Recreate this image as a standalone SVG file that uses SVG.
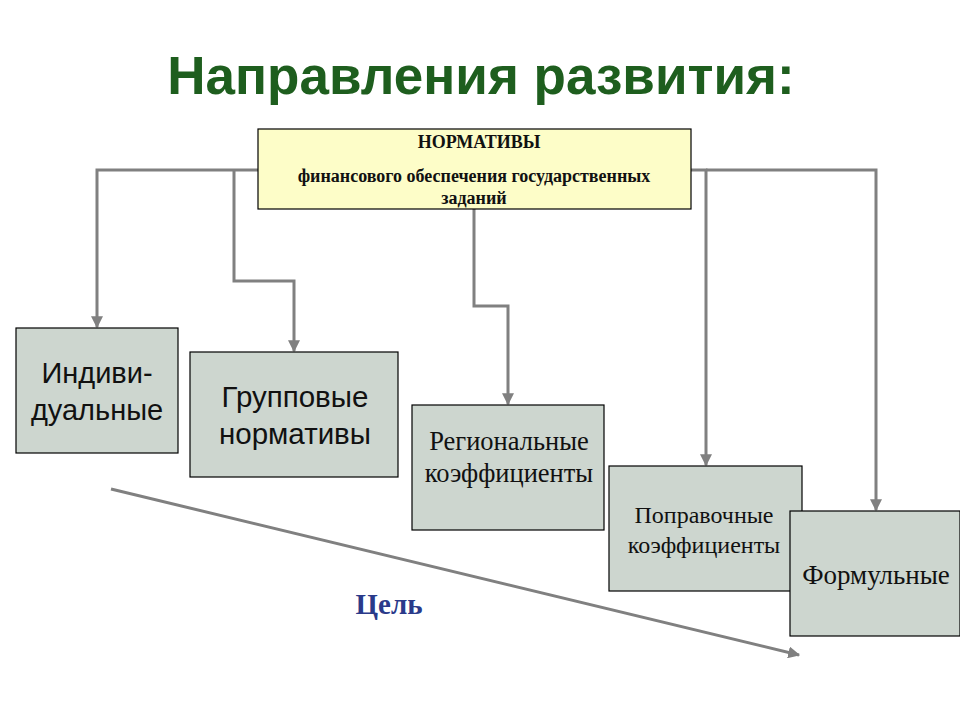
<svg xmlns="http://www.w3.org/2000/svg" width="960" height="720" viewBox="0 0 960 720">
<style>
.box{fill:#cdd6cf;stroke:#000;stroke-width:1.2}
.t{font-family:"Liberation Serif",serif;fill:#111;text-anchor:middle}
.s{font-family:"Liberation Sans",sans-serif;fill:#111;text-anchor:middle}
.c{fill:none;stroke:#808080;stroke-width:3}
</style>
<defs><marker id="a" viewBox="0 0 10 10" refX="9" refY="5" markerWidth="4" markerHeight="4" orient="auto"><path d="M0,0L10,5L0,10z" fill="#808080"/></marker></defs>
<rect width="960" height="720" fill="#fff"/>
<text x="481" y="94" font-family="Liberation Sans,sans-serif" font-weight="bold" font-size="53" fill="#1e5e1e" text-anchor="middle">Направления развития:</text>
<g id="connectors">
<path class="c" d="M258,170H97V327" marker-end="url(#a)"/>
<path class="c" d="M234,170V281H294V351" marker-end="url(#a)"/>
<path class="c" d="M474,209V306H508V404" marker-end="url(#a)"/>
<path class="c" d="M691,170H706V465" marker-end="url(#a)"/>
<path class="c" d="M706,170H876V510" marker-end="url(#a)"/>
<path class="c" d="M111,489L799,655" marker-end="url(#a)"/>
</g>
<g id="top"><rect x="258" y="129" width="433" height="80" fill="#fdfdc8" stroke="#000" stroke-width="1.2"/>
<text class="t" x="479" y="148" font-size="18" font-weight="bold">НОРМАТИВЫ</text>
<text class="t" x="474" y="182" font-size="18" font-weight="bold">финансового обеспечения государственных</text>
<text class="t" x="474" y="204" font-size="18" font-weight="bold">заданий</text></g>
<g id="n1"><rect class="box" x="16" y="328" width="162" height="125"/>
<text class="s" x="97" y="383" font-size="29">Индиви-</text><text class="s" x="97" y="420" font-size="29">дуальные</text></g>
<g id="n2"><rect class="box" x="190" y="352" width="208" height="125"/>
<text class="s" x="295" y="407" font-size="29.5">Групповые</text><text class="s" x="295" y="444" font-size="29.5">нормативы</text></g>
<g id="n3"><rect class="box" x="412" y="405" width="192" height="125"/>
<text class="t" x="509" y="450" font-size="26.5">Региональные</text><text class="t" x="509" y="482" font-size="26.5">коэффициенты</text></g>
<g id="n4"><rect class="box" x="609" y="466" width="193" height="125"/>
<text class="t" x="704" y="523" font-size="24">Поправочные</text><text class="t" x="704" y="553" font-size="24">коэффициенты</text></g>
<g id="n5"><rect class="box" x="790" y="511" width="170" height="125"/>
<text class="t" x="876" y="584" font-size="27">Формульные</text></g>
<text x="389" y="614" font-family="Liberation Serif,serif" font-weight="bold" font-size="29" fill="#2a3a8a" text-anchor="middle">Цель</text>
</svg>
